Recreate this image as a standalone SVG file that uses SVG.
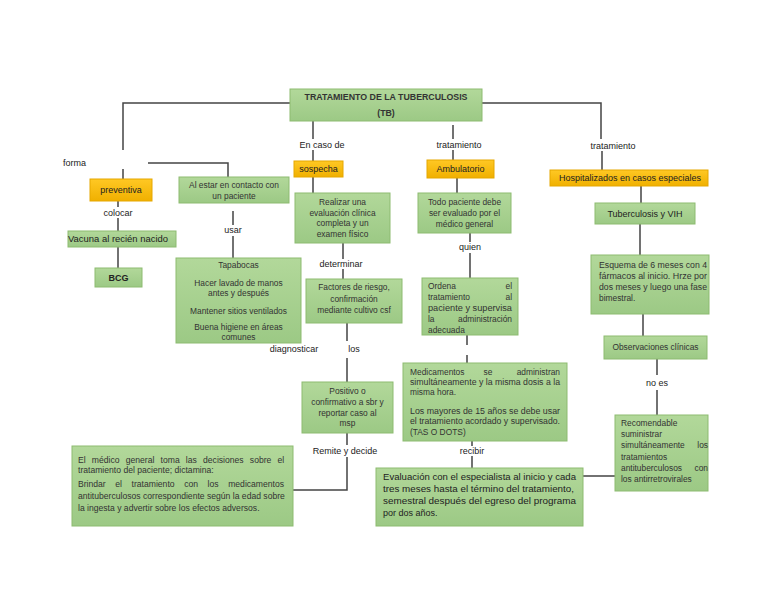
<svg xmlns="http://www.w3.org/2000/svg" width="768" height="594" viewBox="0 0 768 594">
<style>
.g{fill:url(#gg);stroke:#8dbb70;stroke-width:1}
.o{fill:url(#og);stroke:#e6a700;stroke-width:1}
text{font-family:"Liberation Sans",Arial,sans-serif;font-size:8.4px;fill:#333}
.m{text-anchor:middle}
.e{text-anchor:end}
.l{font-size:9px;fill:#222}
.b{font-weight:bold}
.c{stroke:#444;stroke-width:1.5;fill:none}
.md{font-size:8.6px}
</style>
<defs>
<linearGradient id="gg" x1="0" y1="0" x2="0" y2="1"><stop offset="0" stop-color="#b2d89a"/><stop offset="1" stop-color="#9cc985"/></linearGradient>
<linearGradient id="og" x1="0" y1="0" x2="0" y2="1"><stop offset="0" stop-color="#ffc824"/><stop offset="1" stop-color="#f0b000"/></linearGradient>
<clipPath id="hc"><rect x="550" y="170" width="158" height="16"/></clipPath>
</defs>
<rect width="768" height="594" fill="#fff"/>
<g id="connectors">
<path class="c" d="M290,103H123V150M482,103H601V139M313,121V139M313,150V161M453,125V139M453,150V160M602,151V170M123,169V179M148,163H228V177M118,201V207M118,218V231M118,247V268M233,211V225M233,236V258M313,177V193M343,243V259M343,269V279M347,323V341M347,358V382M347,433V445M347,457V490H293M457,178V193M470,233V242M470,253V278M467,335V345M467,355V363M472,441V446M472,456V468M641,186V203M640,224V255M643,314V336M657,359V375M657,390V415M583,476H615"/>
</g>
<g id="labels">
<text class="l" x="63" y="166">forma</text>
<text class="l m" x="118" y="216">colocar</text>
<text class="l m" x="233" y="233">usar</text>
<text class="l m" x="322" y="148">En caso de</text>
<text class="l m" x="459" y="148">tratamiento</text>
<text class="l m" x="613" y="149">tratamiento</text>
<text class="l m" x="341" y="267">determinar</text>
<text class="l m" x="294" y="352">diagnosticar</text>
<text class="l m" x="354" y="352">los</text>
<text class="l m" x="345" y="454">Remite y decide</text>
<text class="l m" x="470" y="250">quien</text>
<text class="l m" x="472" y="454">recibir</text>
<text class="l m" x="657" y="386">no es</text>
</g>
<g id="title"><rect class="g" x="290" y="89" width="192" height="32"/>
<text class="m b" x="386" y="100" style="font-size:8.8px">TRATAMIENTO DE LA TUBERCULOSIS</text>
<text class="m b" x="386" y="116" style="font-size:8.8px">(TB)</text></g>
<g id="preventiva"><rect class="o" x="90" y="179" width="62" height="22"/><text class="l m" x="121" y="193">preventiva</text></g>
<g id="vacuna"><rect class="g" x="68" y="231" width="108" height="16"/><text class="l" x="68" y="242" textLength="100" lengthAdjust="spacingAndGlyphs">Vacuna al recién nacido</text></g>
<g id="bcg"><rect class="g" x="95" y="268" width="47" height="19"/><text class="l m b" x="118.5" y="281">BCG</text></g>
<g id="contacto"><rect class="g" x="179" y="177" width="110" height="26"/>
<text class="m" x="234" y="188">Al estar en contacto con</text><text class="m" x="234" y="199">un paciente</text></g>
<g id="tapabocas"><rect class="g" x="176" y="258" width="125" height="85"/>
<text class="m" x="238.5" y="268">Tapabocas</text>
<text class="m" x="238.5" y="286">Hacer lavado de manos</text>
<text class="m" x="238.5" y="296">antes y después</text>
<text class="m" x="238.5" y="314">Mantener sitios ventilados</text>
<text class="m" x="238.5" y="330">Buena higiene en áreas</text>
<text class="m" x="238.5" y="340">comunes</text></g>
<g id="sospecha"><rect class="o" x="294" y="161" width="49" height="16"/><text class="l m" x="318.5" y="172">sospecha</text></g>
<g id="realizar"><rect class="g" x="295" y="193" width="95" height="50"/>
<text class="m" x="342.5" y="205">Realizar una</text>
<text class="m" x="342.5" y="216">evaluación clínica</text>
<text class="m" x="342.5" y="226">completa y un</text>
<text class="m" x="342.5" y="237">examen físico</text></g>
<g id="factores"><rect class="g" x="306" y="279" width="96" height="44"/>
<text class="m" x="354" y="290">Factores de riesgo,</text>
<text class="m" x="354" y="302">confirmación</text>
<text class="m" x="354" y="313">mediante cultivo csf</text></g>
<g id="positivo"><rect class="g" x="302" y="382" width="91" height="51"/>
<text class="m" x="347.5" y="394">Positivo o</text>
<text class="m" x="347.5" y="405">confirmativo a sbr y</text>
<text class="m" x="347.5" y="416">reportar caso al</text>
<text class="m" x="347.5" y="426">msp</text></g>
<g id="medico"><rect class="g" x="72" y="446" width="221" height="80"/>
<text class="md" x="78" y="463" word-spacing="3.8">El médico general toma las decisiones sobre el</text>
<text class="md" x="78" y="473">tratamiento del paciente; dictamina:</text>
<text class="md" x="78" y="487" word-spacing="7.2">Brindar el tratamiento con los medicamentos</text>
<text class="md" x="78" y="499">antituberculosos correspondiente según la edad sobre</text>
<text class="md" x="78" y="511">la ingesta y advertir sobre los efectos adversos.</text></g>
<g id="ambulatorio"><rect class="o" x="427" y="160" width="67" height="18"/><text class="l m" x="460.5" y="172">Ambulatorio</text></g>
<g id="todo"><rect class="g" x="418" y="193" width="93" height="40"/>
<text class="m" x="464.5" y="205">Todo paciente debe</text>
<text class="m" x="464.5" y="216">ser evaluado por el</text>
<text class="m" x="464.5" y="227">médico general</text></g>
<g id="ordena"><rect class="g" x="422" y="278" width="96" height="57"/>
<text x="428" y="289">Ordena</text><text class="e" x="512" y="289">el</text>
<text x="428" y="300">tratamiento</text><text class="e" x="512" y="300">al</text>
<text x="428" y="311" textLength="84" lengthAdjust="spacingAndGlyphs">paciente y supervisa</text>
<text x="428" y="322">la</text><text class="e" x="512" y="322">administración</text>
<text x="428" y="333">adecuada</text></g>
<g id="medicamentos"><rect class="g" x="403" y="363" width="164" height="78"/>
<text x="410" y="375">Medicamentos</text><text class="m" x="488" y="375">se</text><text class="e" x="560" y="375">administran</text>
<text x="410" y="385" textLength="150" lengthAdjust="spacingAndGlyphs">simultáneamente y la misma dosis a la</text>
<text x="410" y="395">misma hora.</text>
<text x="410" y="414" textLength="150" lengthAdjust="spacingAndGlyphs">Los mayores de 15 años se debe usar</text>
<text x="410" y="424" textLength="150" lengthAdjust="spacingAndGlyphs">el tratamiento acordado y supervisado.</text>
<text x="410" y="435">(TAS O DOTS)</text></g>
<g id="evaluacion"><rect class="g" x="376" y="468" width="207" height="58"/>
<text class="l" x="383" y="480" textLength="193" lengthAdjust="spacingAndGlyphs">Evaluación con el especialista al inicio y cada</text>
<text class="l" x="383" y="492" textLength="191" lengthAdjust="spacingAndGlyphs">tres meses hasta el término del tratamiento,</text>
<text class="l" x="383" y="504" textLength="193" lengthAdjust="spacingAndGlyphs">semestral después del egreso del programa</text>
<text class="l" x="383" y="516">por dos años.</text></g>
<g id="hospitalizados"><rect class="o" x="550" y="170" width="158" height="16"/>
<text class="l" x="559" y="181" clip-path="url(#hc)">Hospitalizados en casos especiales</text></g>
<g id="vih"><rect class="g" x="595" y="203" width="100" height="21"/><text class="l m" x="645" y="217">Tuberculosis y VIH</text></g>
<g id="esquema"><rect class="g" x="591" y="255" width="118" height="59"/>
<text x="599" y="268" textLength="108" lengthAdjust="spacingAndGlyphs">Esquema de 6 meses con 4</text>
<text x="599" y="279" textLength="108" lengthAdjust="spacingAndGlyphs">fármacos al inicio. Hrze por</text>
<text x="599" y="290" textLength="108" lengthAdjust="spacingAndGlyphs">dos meses y luego una fase</text>
<text x="599" y="301">bimestral.</text></g>
<g id="observaciones"><rect class="g" x="604" y="336" width="103" height="23"/><text class="m" x="655.5" y="350">Observaciones clínicas</text></g>
<g id="recomendable"><rect class="g" x="615" y="415" width="93" height="76"/>
<text x="621" y="426">Recomendable</text>
<text x="621" y="437">suministrar</text>
<text x="621" y="448">simultáneamente</text><text class="e" x="708" y="448">los</text>
<text x="621" y="460">tratamientos</text>
<text x="621" y="471">antituberculosos</text><text class="e" x="708" y="471">con</text>
<text x="621" y="482">los antirretrovirales</text></g>
</svg>
